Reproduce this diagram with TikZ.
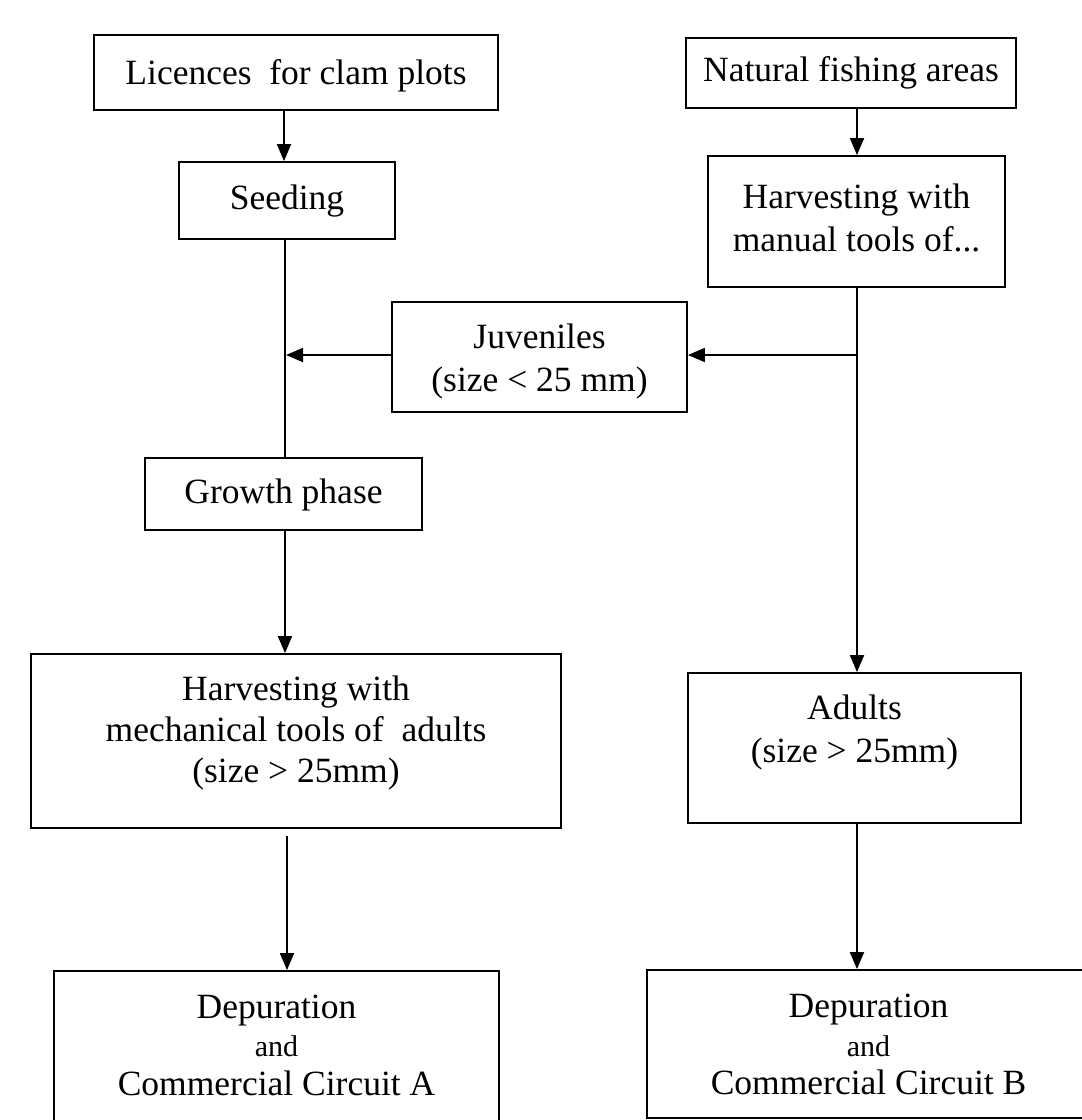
\documentclass[tikz,border=0pt]{standalone}
\usepackage{fontspec}
\setmainfont{Liberation Serif}
\usetikzlibrary{arrows.meta}
\tikzset{
  box/.style={draw, line width=1.8pt, inner sep=0pt, anchor=center},
  txt/.style={align=center, inner sep=0pt, font=\fontsize{35.5}{43}\selectfont},
  conn/.style={line width=1.8pt, -{Triangle[width=14pt,length=17pt]}},
  plain/.style={line width=1.8pt}
}
\begin{document}
\begin{tikzpicture}[x=1pt,y=-1pt]
\useasboundingbox (0,0) rectangle (1082,1120);
% boxes
\node[box, minimum width=404pt, minimum height=75pt] (lic) at (296,72.5) {};
\node[txt] at (296,76) {Licences\ \ for clam plots};
\node[box, minimum width=330pt, minimum height=70pt] (nat) at (851,73) {};
\node[txt] at (851,73) {Natural fishing areas};
\node[box, minimum width=216pt, minimum height=77pt] (seed) at (287,200.5) {};
\node[txt] at (287,201) {Seeding};
\node[box, minimum width=297pt, minimum height=131pt] (harvm) at (856.5,221.5) {};
\node[txt] at (856.5,218) {Harvesting with\\manual tools of...};
\node[box, minimum width=295pt, minimum height=110pt] (juv) at (539.5,357) {};
\node[txt] at (539.5,361) {Juveniles\\(size {<} 25 mm)};
\node[box, minimum width=277pt, minimum height=72pt] (grow) at (283.5,494) {};
\node[txt] at (283.5,495) {Growth phase};
\node[box, minimum width=530pt, minimum height=174pt] (mech) at (296,741) {};
\node[txt, font=\fontsize{35.5}{41}\selectfont] at (296,733) {Harvesting with\\mechanical tools of\ \ adults\\(size {>} 25mm)};
\node[box, minimum width=333pt, minimum height=150pt] (adults) at (854.5,748) {};
\node[txt] at (854.5,732) {Adults\\(size {>} 25mm)};
\node[box, minimum width=445pt, minimum height=156pt] (depA) at (276.5,1049) {};
\node[txt, font=\fontsize{35.5}{38.5}\selectfont] at (276.5,1045) {Depuration\\{\fontsize{30}{38.5}\selectfont and}\\Commercial Circuit A};
\node[box, minimum width=443pt, minimum height=148pt] (depB) at (868.5,1044) {};
\node[txt, font=\fontsize{35.5}{38.5}\selectfont] at (868.5,1044.5) {Depuration\\{\fontsize{30}{38.5}\selectfont and}\\Commercial Circuit B};
% coordinates
\coordinate (jl) at (286,355);
\coordinate (jr) at (857,355);
% connectors
\draw[conn] (lic.south -| 284,0) -- (seed.north -| 284,0);
\draw[conn] (nat.south -| 857,0) -- (harvm.north -| 857,0);
\draw[plain] (seed.south -| 285,0) -- (grow.north -| 285,0);
\draw[conn] (juv.west |- jl) -- (jl);
\draw[conn] (harvm.south -| 857,0) -- (adults.north -| 857,0);
\draw[conn] (jr) -- (juv.east |- jr);
\draw[conn] (grow.south -| 285,0) -- (mech.north -| 285,0);
\draw[conn, shorten <=7pt] (mech.south -| 287,0) -- (depA.north -| 287,0);
\draw[conn] (adults.south -| 857,0) -- (depB.north -| 857,0);
\end{tikzpicture}
\end{document}
